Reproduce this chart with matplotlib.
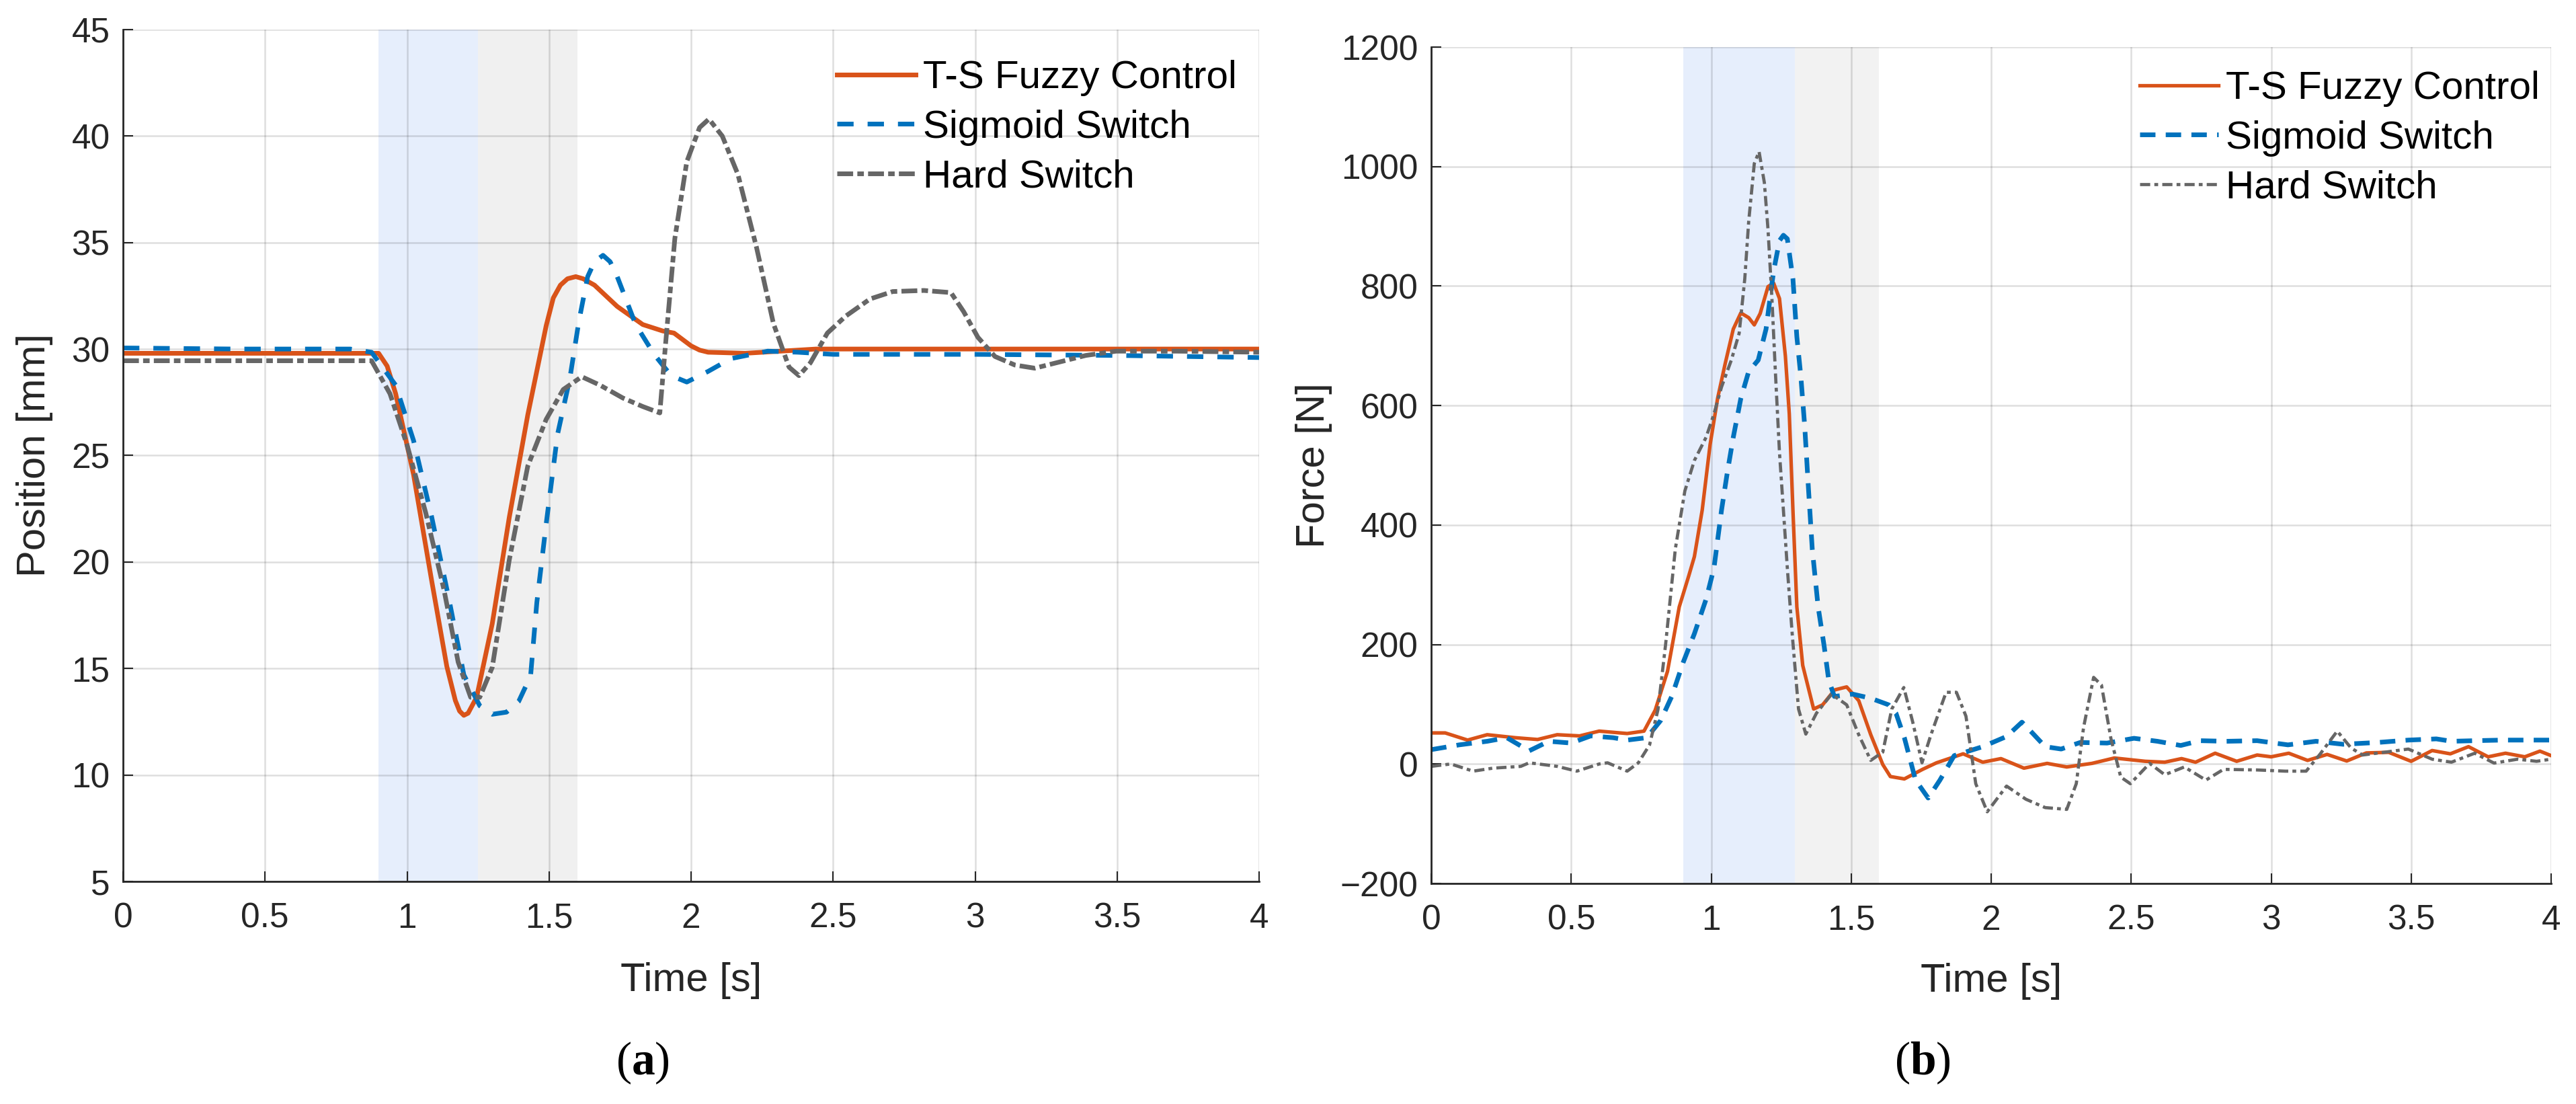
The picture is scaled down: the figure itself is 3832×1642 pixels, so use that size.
import matplotlib.pyplot as plt
import numpy as np

plt.rcParams['font.family'] = ['Liberation Sans', 'DejaVu Sans']
plt.rcParams['mathtext.fontset'] = 'custom'
plt.rcParams['mathtext.rm'] = 'Liberation Serif'
plt.rcParams['mathtext.bf'] = 'Liberation Serif:bold'

# ---- (a) position ----
t_ts_pos = [0, 0.5, 0.9, 0.93, 0.96, 1.023, 1.087, 1.14, 1.17, 1.185, 1.20, 1.215, 1.245, 1.30, 1.36,
            1.425, 1.49, 1.515, 1.54, 1.565, 1.594, 1.62, 1.66, 1.74, 1.83, 1.90, 1.94, 2.0, 2.03,
            2.06, 2.19, 2.44, 4.0]
ts_pos = [29.8, 29.8, 29.8, 29.2, 27.9, 24.1, 19.1, 15.1, 13.5, 13.0, 12.8, 12.9, 13.65, 17.1, 22.1,
          26.9, 31.1, 32.4, 33.0, 33.3, 33.4, 33.3, 33.0, 32.0, 31.15, 30.85, 30.75, 30.15, 29.95,
          29.85, 29.8, 30.0, 30.0]

t_sig_pos = [0, 0.4, 0.8, 0.875, 0.96, 1.023, 1.087, 1.15, 1.20, 1.256, 1.30, 1.35, 1.393, 1.435,
             1.457, 1.49, 1.53, 1.573, 1.605, 1.636, 1.66, 1.69, 1.715, 1.74, 1.805, 1.87, 1.93,
             1.985, 2.06, 2.14, 2.27, 2.376, 2.5, 3.0, 3.5, 4.0]
sig_pos = [30.05, 30.0, 30.0, 29.85, 28.3, 25.7, 22.1, 18.1, 14.7, 13.25, 12.85, 12.95, 13.45, 14.65,
           18.1, 21.8, 26.0, 28.6, 31.3, 33.4, 34.1, 34.4, 34.1, 33.4, 31.15, 29.75, 28.75,
           28.45, 28.95, 29.55, 29.9, 29.85, 29.75, 29.75, 29.7, 29.6]

t_hard_pos = [0, 0.5, 0.875, 0.94, 1.0, 1.066, 1.13, 1.18, 1.224, 1.256, 1.30, 1.36, 1.425, 1.49,
              1.55, 1.615, 1.68, 1.76, 1.83, 1.89, 1.91, 1.943, 1.985, 2.03, 2.063, 2.11, 2.165,
              2.23, 2.29, 2.345, 2.38, 2.42, 2.48, 2.545, 2.63, 2.71, 2.82, 2.915, 2.96, 3.01,
              3.07, 3.14, 3.21, 3.285, 3.39, 3.497, 3.71, 4.0]
hard_pos = [29.45, 29.45, 29.45, 27.9, 25.5, 22.3, 18.7, 15.3, 13.65, 13.65, 15.05, 20.1, 24.5, 26.7,
            28.1, 28.7, 28.3, 27.7, 27.3, 27.0, 30.2, 35.2, 38.8, 40.4, 40.8, 40.0, 38.2,
            34.8, 31.2, 29.15, 28.75, 29.35, 30.75, 31.55, 32.35, 32.7, 32.75, 32.65, 31.75, 30.55,
            29.65, 29.25, 29.1, 29.35, 29.7, 29.9, 29.9, 29.85]

# ---- (b) force ----
t_ts_f = [0, 0.05, 0.13, 0.2, 0.3, 0.38, 0.45, 0.53, 0.6, 0.7, 0.76, 0.8, 0.844, 0.886, 0.92, 0.94,
          0.968, 0.996, 1.023, 1.05, 1.079, 1.106, 1.134, 1.154, 1.175, 1.203, 1.223, 1.244, 1.265,
          1.279, 1.292, 1.306, 1.327, 1.366, 1.398, 1.441, 1.484, 1.527, 1.57, 1.613, 1.64, 1.69,
          1.755, 1.805, 1.9, 1.97, 2.035, 2.117, 2.2, 2.27, 2.36, 2.44, 2.55, 2.62, 2.68, 2.73,
          2.80, 2.877, 2.95, 3.0, 3.063, 3.13, 3.2, 3.27, 3.34, 3.42, 3.5, 3.575, 3.64, 3.705,
          3.775, 3.837, 3.906, 3.96, 4.0]
ts_f = [52, 52, 40, 49, 44, 41, 49, 47, 55, 51, 55, 90, 155, 263, 315, 347,
        425, 534, 612, 670, 728, 755, 747, 735, 754, 799, 805, 779, 683,
        586, 425, 263, 165, 92, 99, 124, 129, 106, 49, -1, -21, -25,
        -9, 2, 17, 3, 9, -7, 1, -5, 1, 10, 4.5, 3, 9, 3,
        18, 4.5, 15, 12, 18, 6, 16, 5, 18.5, 19.5, 4.5, 22.5, 17, 29,
        12, 18, 12, 21.5, 14]

t_sig_f = [0, 0.1, 0.2, 0.27, 0.35, 0.42, 0.5, 0.57, 0.65, 0.7, 0.77, 0.82, 0.86, 0.9, 0.94, 0.982,
           1.01, 1.037, 1.058, 1.079, 1.106, 1.134, 1.168, 1.196, 1.223, 1.244, 1.258, 1.272, 1.292,
           1.306, 1.32, 1.334, 1.348, 1.361, 1.382, 1.403, 1.42, 1.44, 1.505, 1.57, 1.634, 1.66,
           1.69, 1.73, 1.775, 1.817, 1.868, 1.97, 2.055, 2.11, 2.145, 2.193, 2.25, 2.318, 2.414,
           2.51, 2.594, 2.677, 2.746, 2.84, 2.95, 3.06, 3.16, 3.257, 3.38, 3.49, 3.59, 3.644,
           3.727, 3.823, 4.0]
sig_f = [24, 32, 38, 44, 22, 38, 35, 47, 44, 40, 44, 73, 114, 170, 218, 276,
         328, 425, 489, 547, 612, 657, 676, 728, 825, 876, 885, 879, 812,
         715, 650, 566, 457, 360, 263, 199, 140, 113, 117, 110, 99, 85,
         44, -27, -57, -27, 14, 29, 46, 70, 53, 29, 25, 36, 35,
         43, 38, 31, 39, 38, 39, 32, 38, 33, 36, 40, 42, 38,
         39, 40, 40]

t_hard_f = [0, 0.07, 0.15, 0.22, 0.32, 0.35, 0.45, 0.52, 0.6, 0.63, 0.7, 0.74, 0.78, 0.81, 0.837,
            0.872, 0.906, 0.94, 0.982, 1.01, 1.037, 1.072, 1.1, 1.12, 1.134, 1.154, 1.171, 1.19,
            1.203, 1.217, 1.23, 1.244, 1.258, 1.272, 1.29, 1.312, 1.338, 1.376, 1.43, 1.484,
            1.527, 1.57, 1.613, 1.645, 1.688, 1.72, 1.753, 1.785, 1.839, 1.876, 1.91, 1.945,
            1.986, 2.055, 2.124, 2.193, 2.27, 2.304, 2.33, 2.366, 2.394, 2.428, 2.463, 2.497,
            2.566, 2.62, 2.69, 2.767, 2.83, 2.95, 3.05, 3.125, 3.174, 3.236, 3.285, 3.326,
            3.41, 3.49, 3.575, 3.644, 3.727, 3.796, 3.88, 3.948, 4.0]
hard_f = [-4, 0, -12, -7, -4, 2, -4, -12, 0, 2, -12, 2, 32, 91, 199,
          360, 457, 508, 547, 586, 631, 676, 721, 812, 908, 1005, 1025, 973,
          895, 779, 650, 521, 425, 328, 214, 92, 50, 85, 117, 99,
          49, 6, 20, 92, 128, 70, 2, 49, 120, 120, 80, -33,
          -80, -37, -59, -73, -76, -33, 61, 145, 132, 42, -22, -33,
          1, -18, -5, -27, -9, -10, -12, -12, 16, 55, 27, 15,
          20, 25, 8, 3, 18, 1.5, 8, 4.5, 8]

labels = ['T-S Fuzzy Control', 'Sigmoid Switch', 'Hard Switch']
xticks = [0, 0.5, 1, 1.5, 2, 2.5, 3, 3.5, 4]
xticklabels = ['0', '0.5', '1', '1.5', '2', '2.5', '3', '3.5', '4']

c_ts = '#D95319'
c_sig = '#0072BD'
c_hard = '#666666'
txt = '#262626'

W, H = 3832, 1642
fig = plt.figure(figsize=(W / 100, H / 100), dpi=100)

ax1 = fig.add_axes([183 / W, 1 - 1311 / H, 1690 / W, 1267 / H])
ax2 = fig.add_axes([2129 / W, 1 - 1314 / H, 1666 / W, 1244 / H])


def style(ax, ylim, yticks):
    ax.set_xlim(0, 4)
    ax.set_ylim(*ylim)
    ax.set_xticks(xticks)
    ax.set_xticklabels(xticklabels)
    ax.set_yticks(yticks)
    for s in ['top', 'right']:
        ax.spines[s].set_visible(False)
    for s in ['left', 'bottom']:
        ax.spines[s].set_linewidth(2)
        ax.spines[s].set_color(txt)
    ax.grid(True, color='k', alpha=0.13, lw=1.8)
    ax.set_axisbelow(True)
    ax.tick_params(direction='in', length=11, width=1.5, labelsize=37, colors=txt)
    ax.tick_params(axis='x', pad=22)
    ax.tick_params(axis='y', pad=14)
    ax.set_xlabel('Time [s]', fontsize=43, color=txt)
    ax.xaxis.set_label_coords(0.5, -0.095)


leg_kw = dict(bbox_transform=fig.transFigure, loc='upper left', frameon=False, fontsize=42,
              handlelength=2.0, handletextpad=0.2, labelspacing=0.34, borderpad=0, borderaxespad=0)

# left plot
ax1.axvspan(0.9, 1.25, color='#E6EEFC', lw=0, zorder=0)
ax1.axvspan(1.25, 1.6, color='#F0F0F0', lw=0, zorder=0)
ax1.plot(t_ts_pos, ts_pos, color=c_ts, lw=5, label=labels[0])
ax1.plot(t_sig_pos, sig_pos, color=c_sig, lw=5, dashes=(3.5, 3.0), label=labels[1])
ax1.plot(t_hard_pos, hard_pos, color=c_hard, lw=5, dashes=(3.4, 0.9, 1.4, 0.9), label=labels[2])
style(ax1, (5, 45), np.arange(5, 46, 5))
ax1.set_ylabel('Position [mm]', fontsize=43, color=txt)
ax1.yaxis.set_label_coords(-0.0615, 0.5)
ax1.legend(bbox_to_anchor=(1245 / W, 1 - 89 / H), **leg_kw)

# right plot
ax2.axvspan(0.9, 1.3, color='#E6EEFC', lw=0, zorder=0)
ax2.axvspan(1.3, 1.6, color='#F2F2F2', lw=0, zorder=0)
ax2.plot(t_ts_f, ts_f, color=c_ts, lw=3.8, label=labels[0])
ax2.plot(t_sig_f, sig_f, color=c_sig, lw=5, dashes=(3.3, 2.2), label=labels[1])
ax2.plot(t_hard_f, hard_f, color=c_hard, lw=3.4, dashes=(3.2, 1.3, 1.2, 1.3), label=labels[2])
style(ax2, (-200, 1200), np.arange(-200, 1201, 200))
ax2.set_ylabel('Force [N]', fontsize=43, color=txt)
ax2.yaxis.set_label_coords(-0.088, 0.5)
ax2.legend(bbox_to_anchor=(3183 / W, 1 - 105 / H), **leg_kw)

fig.text(956 / W, 1 - 1581 / H, r'$(\mathbf{a})$', fontsize=50, ha='center', va='center', color='k')
fig.text(2860 / W, 1 - 1581 / H, r'$(\mathbf{b})$', fontsize=50, ha='center', va='center', color='k')

fig.savefig('out.png', dpi=100)
